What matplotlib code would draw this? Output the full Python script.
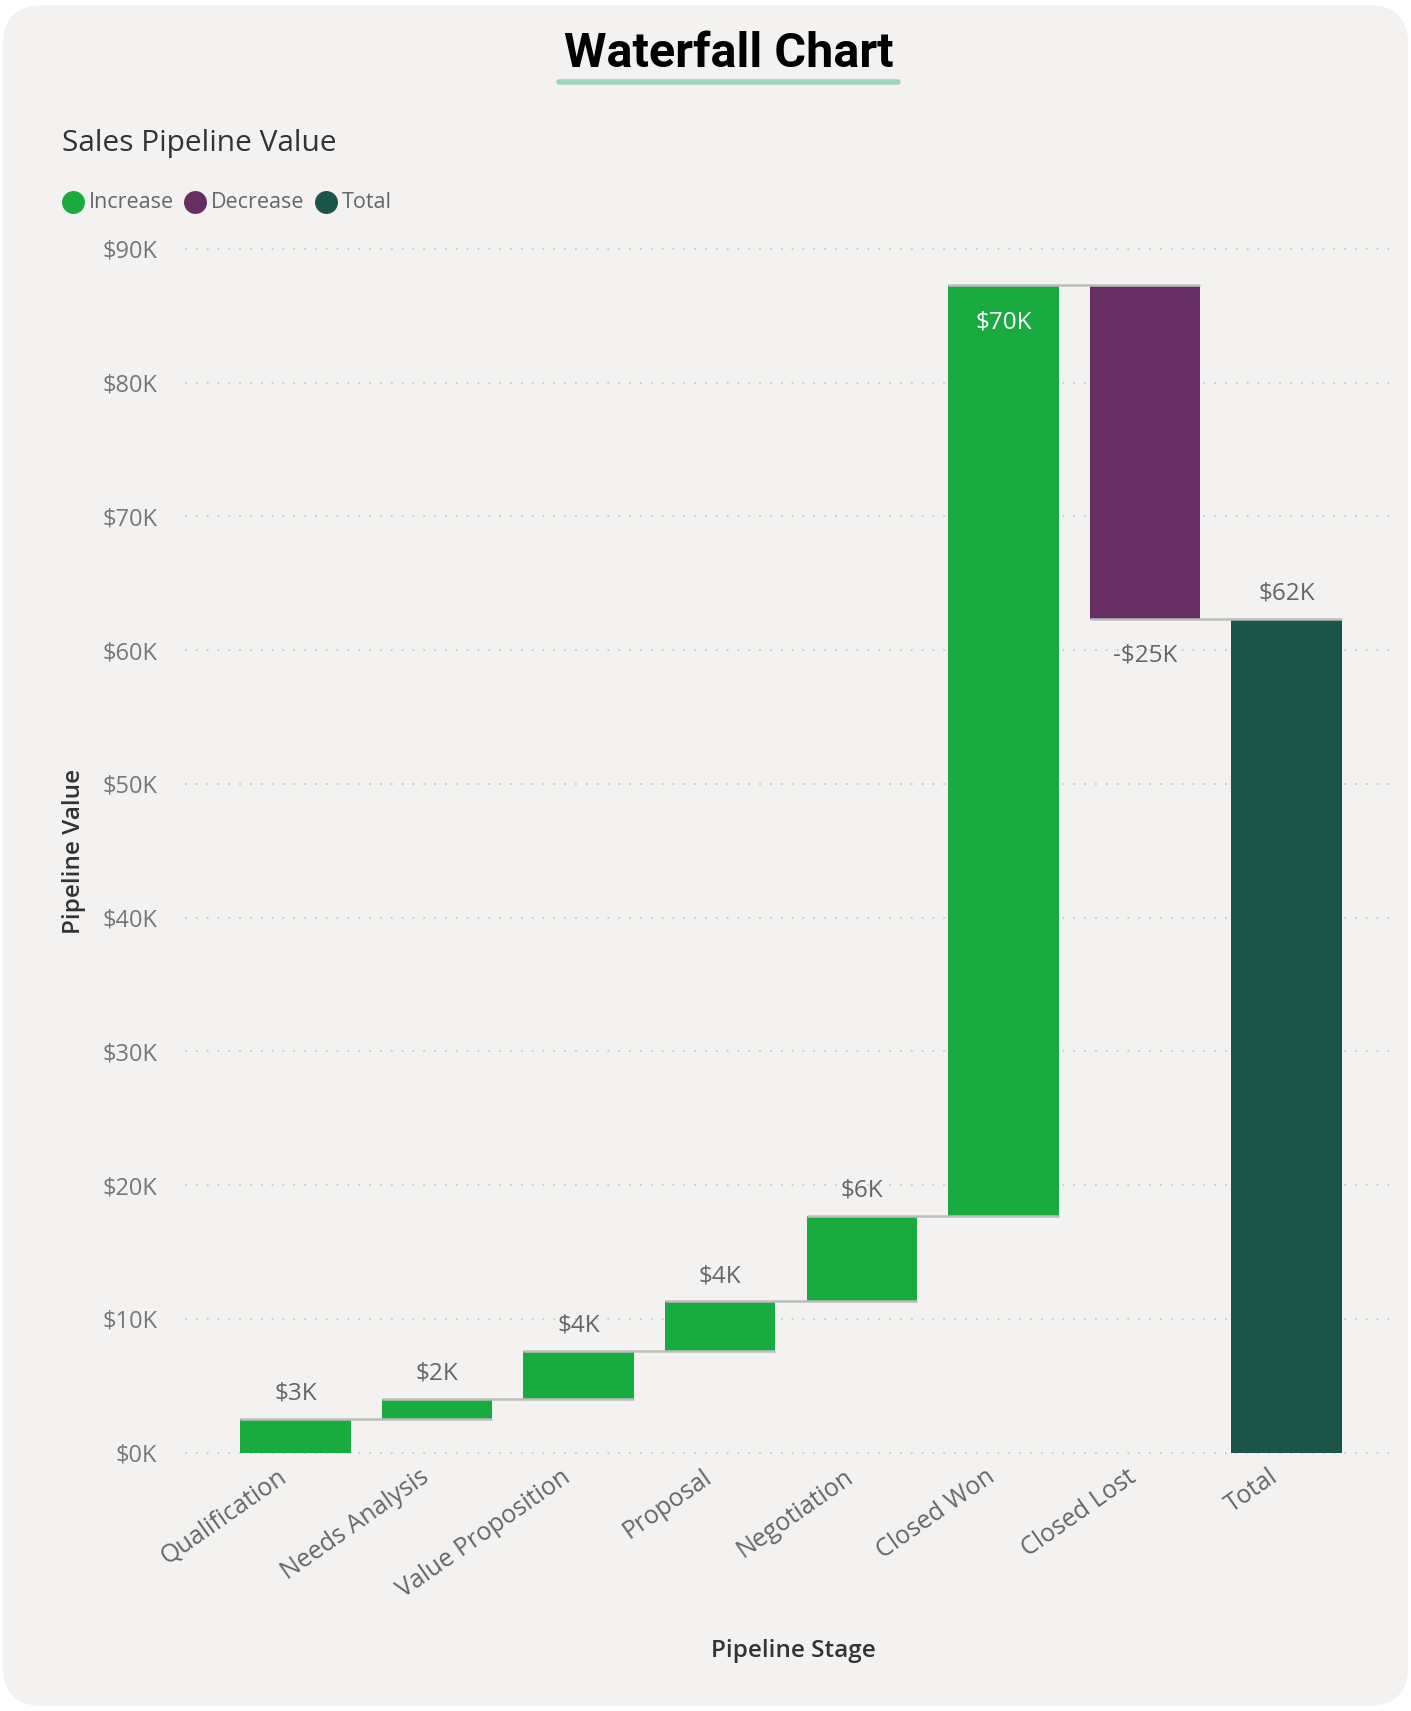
import matplotlib
matplotlib.use("Agg")
import matplotlib.pyplot as plt
import matplotlib.transforms as mtrans
from matplotlib.patches import FancyBboxPatch
from matplotlib.lines import Line2D

stages = ["Qualification", "Needs Analysis", "Value Proposition", "Proposal",
          "Negotiation", "Closed Won", "Closed Lost", "Total"]
changes = [2500, 1500, 3600, 3700, 6400, 69600, -25000]
y_ticks = [0, 10000, 20000, 30000, 40000, 50000, 60000, 70000, 80000, 90000]
y_tick_labels = ["$0K", "$10K", "$20K", "$30K", "$40K", "$50K", "$60K", "$70K", "$80K", "$90K"]

C_INC = "#1AAB40"
C_DEC = "#662E62"
C_TOT = "#1B5449"
BG = "#F3F2F1"

W, H = 1411, 1711
fig = plt.figure(figsize=(W / 100, H / 100), dpi=100, facecolor="white")
bg = FancyBboxPatch((0.002, 0.003), 0.996, 0.994, boxstyle="round,pad=0,rounding_size=0.028",
                    transform=fig.transFigure, facecolor=BG, edgecolor="none", zorder=-10,
                    mutation_aspect=W / H)
fig.patches.append(bg)

def fx(px):
    return px / W

def fy(py):
    return 1 - py / H

ax = fig.add_axes([fx(185), fy(1452.6), fx(1397) - fx(185), fy(248.8) - fy(1452.6)])
ax.set_facecolor(BG)
ax.patch.set_alpha(0)

fam = ["Open Sans", "DejaVu Sans"]

# compute waterfall
bottoms, heights, colors = [], [], []
cum = 0
for v in changes:
    if v >= 0:
        bottoms.append(cum); heights.append(v); colors.append(C_INC)
    else:
        bottoms.append(cum + v); heights.append(-v); colors.append(C_DEC)
    cum += v
bottoms.append(0); heights.append(cum); colors.append(C_TOT)
ends = []
c = 0
for v in changes:
    c += v
    ends.append(c)

x = list(range(len(stages)))
bw = 0.78
ax.bar(x, heights, bottom=bottoms, width=bw, color=colors, zorder=3)

# connectors
for i, e in enumerate(ends):
    ax.plot([i - bw / 2, i + 1 + bw / 2], [e, e], color="#BDBDBD", lw=1.8, zorder=4,
            solid_capstyle="butt")

# gridlines
for t in y_ticks:
    ax.axhline(t, color="#C8C8C8", lw=1.3, linestyle=(0, (1, 5)), zorder=1, clip_on=False)

def fmt(v):
    k = int(abs(v) / 1000 + 0.5)
    return ("-" if v < 0 else "") + "${}K".format(k)

LS = 17.5
for i, v in enumerate(changes + [cum]):
    top = bottoms[i] + heights[i]
    if i == len(changes):
        ax.text(i, top + 1000, fmt(v), ha="center", va="bottom", fontsize=LS, color="#666666", family=fam)
    elif v < 0:
        ax.text(i, bottoms[i] - 1800, fmt(v), ha="center", va="top", fontsize=LS, color="#666666", family=fam)
    elif heights[i] > 20000:
        ax.text(i, top - 1900, fmt(v), ha="center", va="top", fontsize=LS, color="white", family=fam)
    else:
        ax.text(i, top + 1000, fmt(v), ha="center", va="bottom", fontsize=LS, color="#666666", family=fam)

ax.set_xlim(-0.78, 7.78)
ax.set_ylim(0, 90000)
ax.set_yticks(y_ticks)
ax.set_yticklabels(y_tick_labels, family=fam, fontsize=17, color="#777777")
ax.set_xticks(x)
ax.set_xticklabels([])
ax.tick_params(axis="both", length=0)
ax.tick_params(axis="y", pad=20)
for s in ax.spines.values():
    s.set_visible(False)

# x category labels, rotated, anchored slightly left of each bar centre
off = mtrans.ScaledTranslation(-18 / 100, -12 / 100, fig.dpi_scale_trans)
for i, s in enumerate(stages):
    ax.text(i, 0, s, transform=ax.get_xaxis_transform() + off, rotation=35,
            ha="right", va="top", rotation_mode="anchor", family=fam, fontsize=18,
            color="#666666", clip_on=False)

# titles
fig.text(fx(729), fy(54), "Waterfall Chart", ha="center", va="center", fontsize=35,
         fontweight="bold", family=["Roboto", "DejaVu Sans"], color="black")
fig.add_artist(Line2D([fx(559), fx(898)], [fy(82), fy(82)], color="#9FD5C0", lw=4,
                      transform=fig.transFigure, solid_capstyle="round"))
fig.text(fx(62), fy(143), "Sales Pipeline Value", ha="left", va="center", fontsize=21.5,
         family=fam, color="#333333")

# legend
leg_items = [("Increase", C_INC, 73), ("Decrease", C_DEC, 195), ("Total", C_TOT, 326)]
for lab, col, px in leg_items:
    fig.add_artist(Line2D([fx(px)], [fy(202)], marker="o", markersize=15.5, color=col,
                          transform=fig.transFigure, linestyle="none"))
    fig.text(fx(px + 16), fy(202), lab, ha="left", va="center", fontsize=15.5,
             family=fam, color="#666666")

fig.text(fx(74), fy(851), "Pipeline Value", rotation=90, ha="center", va="center",
         fontsize=17.5, family=fam, color="#333333", fontweight="semibold")
fig.text(fx(793), fy(1651), "Pipeline Stage", ha="center", va="center",
         fontsize=17.5, family=fam, color="#333333", fontweight="semibold")

fig.savefig("out.png", dpi=100, facecolor="white")
